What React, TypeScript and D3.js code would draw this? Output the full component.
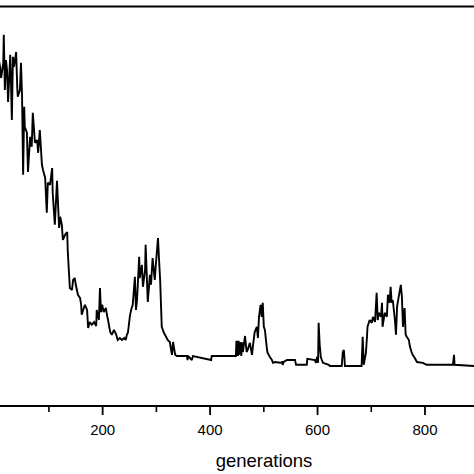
import React from "react";
import * as d3 from "d3";

// generations (x) and fitness-like value (y, arbitrary units 0..100)
const generations: number[] = [
  0, 5, 9, 11, 15, 16, 18, 20, 22, 24, 28, 29, 31, 33, 35, 39, 41, 42, 46, 48, 50, 52, 54, 55, 59, 61, 65, 68, 70, 74,
  78, 80, 83, 87, 89, 93, 96, 98, 102, 106, 107, 111, 115, 119, 121, 124, 126, 130, 134, 135, 137, 139, 143, 145, 148, 150,
  154, 158, 160, 161, 165, 167, 171, 173, 176, 180, 184, 188, 189, 193, 195, 197, 199, 202, 206, 208, 210, 214, 217, 221,
  225, 228, 232, 236, 240, 243, 245, 247, 251, 254, 256, 260, 262, 264, 268, 269, 273, 275, 279, 280, 284, 288, 290, 293,
  297, 299, 303, 305, 307, 310, 314, 318, 321, 325, 329, 331, 335, 338, 357, 358, 359, 366, 368, 402, 403, 448,
  449, 450, 451, 452, 453, 454, 455, 456, 457, 458, 459, 461, 465, 468, 470, 474, 478, 480, 483, 487, 489, 491, 494, 496,
  498, 500, 502, 506, 507, 511, 515, 517, 521, 530, 534, 535, 537, 543, 558, 560, 580, 581, 595, 597, 599, 601, 602, 604,
  606, 608, 610, 621, 623, 645, 647, 649, 651, 682, 684, 686, 690, 692, 693, 697, 701, 703, 707, 710, 712, 714, 718, 720,
  721, 725, 729, 731, 734, 736, 738, 740, 744, 746, 748, 751, 755, 757, 759, 762, 764, 766, 770, 772, 775, 777, 781, 785,
  796, 803, 852, 854, 855, 891, 910,
];
const values: number[] = [
  82.0, 88.0, 84.8, 82.0, 85.8, 92.8, 79.0, 86.5, 84.0, 76.0, 87.8, 83.3, 71.5, 87.3, 84.8, 88.5, 79.8, 77.3, 79.0, 85.8,
  77.3, 57.8, 74.8, 69.8, 68.3, 58.5, 67.3, 64.8, 73.3, 65.8,
  66.5, 63.3, 69.0, 60.3, 59.0, 57.0, 48.3, 55.8, 55.3, 59.5, 53.3, 45.3, 56.3, 44.5, 47.3, 45.3, 41.5, 42.8, 43.5, 39.0,
  34.0, 29.5, 29.0, 31.5, 32.0, 30.3,
  27.8, 27.0, 25.3, 22.8, 24.5, 25.3, 24.0, 19.5, 21.0, 20.3, 21.0, 20.0, 24.0, 21.5, 29.5, 23.5, 25.3, 23.5, 24.5, 22.8,
  21.5, 18.5, 17.8, 19.0,
  18.0, 16.5, 17.0, 16.5, 17.0, 16.5, 17.8, 18.3, 22.8, 24.5, 25.3, 32.3, 24.0, 26.5, 37.3, 32.0, 35.3, 29.8, 34.0, 40.3,
  26.0, 32.8, 30.3, 37.0,
  31.5, 35.3, 42.0, 36.5, 31.5, 19.8, 18.3, 17.3, 16.5, 16.0, 12.8, 16.0, 12.8, 12.5, 12.5, 11.5, 12.5, 11.5, 12.5, 11.5,
  12.5, 12.5,
  16.3, 12.5, 16.3, 12.5, 16.3, 12.8, 16.0, 13.0, 15.8, 12.5, 16.0, 13.5, 17.5, 13.5, 14.0, 15.8, 12.8, 15.3, 18.5, 19.8,
  17.0, 22.3, 25.3, 22.3,
  25.8, 19.8, 19.0, 14.0, 13.3, 12.3, 11.5, 10.8, 11.0, 10.8, 11.0, 10.3, 11.0, 11.5, 11.5, 10.3, 10.3, 11.8, 11.5, 10.8,
  12.3, 10.8, 20.8, 15.3,
  12.3, 11.5, 10.8, 10.3, 10.0, 10.0, 13.5, 14.0, 10.0, 10.0, 17.3, 10.3, 13.3, 17.3, 19.8, 21.5, 20.8, 22.3, 21.0, 28.3,
  21.5, 23.3, 22.3, 25.8,
  19.8, 23.3, 22.3, 27.8, 25.8, 29.8, 25.8, 26.5, 21.5, 17.8, 24.8, 27.3, 30.3, 27.3, 19.8, 24.5, 17.8, 17.3, 16.5, 14.8,
  13.5, 12.8, 12.0, 11.0,
  10.8, 10.3, 10.3, 12.8, 10.3, 10.0, 10.0,
];
const majorTicks: number[] = [200, 400, 600, 800];
const minorTicks: number[] = [100, 300, 500, 700];
const xLabel = "generations";

const W = 474;
const H = 474;

export default function App() {
  const x = d3.scaleLinear().domain([0, 800]).range([-4.8, 425]);
  const y = d3.scaleLinear().domain([0, 100]).range([406, 6]);
  const pts: [number, number][] = generations.map((g, i) => [g, values[i]]);
  const line = d3
    .line<[number, number]>()
    .x((d) => x(d[0]))
    .y((d) => y(d[1]));
  const font = "'Liberation Sans', Arial, Helvetica, sans-serif";
  return (
    <svg
      width={W}
      height={H}
      style={{ position: "absolute", left: 0, top: 0, background: "#fff" }}
    >
      <rect x={0} y={0} width={W} height={H} fill="#fff" />
      <line x1={0} x2={W} y1={y(100) + 0.5} y2={y(100) + 0.5} stroke="#000" strokeWidth={2.2} />
      <line x1={0} x2={W} y1={y(0)} y2={y(0)} stroke="#000" strokeWidth={2.2} />
      {majorTicks.map((t) => (
        <g key={"M" + t}>
          <line x1={x(t)} x2={x(t)} y1={y(0)} y2={y(0) + 9} stroke="#000" strokeWidth={1.8} />
          <text x={x(t)} y={435} textAnchor="middle" fontFamily={font} fontSize={15} fill="#000">
            {t}
          </text>
        </g>
      ))}
      {minorTicks.map((t) => (
        <line key={"m" + t} x1={x(t)} x2={x(t)} y1={y(0)} y2={y(0) + 6} stroke="#000" strokeWidth={1.6} />
      ))}
      <text x={264} y={467} textAnchor="middle" fontFamily={font} fontSize={18.5} fill="#000">
        {xLabel}
      </text>
      <path d={line(pts) || ""} fill="none" stroke="#000" strokeWidth={1.9} strokeLinejoin="miter" strokeMiterlimit={2} />
    </svg>
  );
}
